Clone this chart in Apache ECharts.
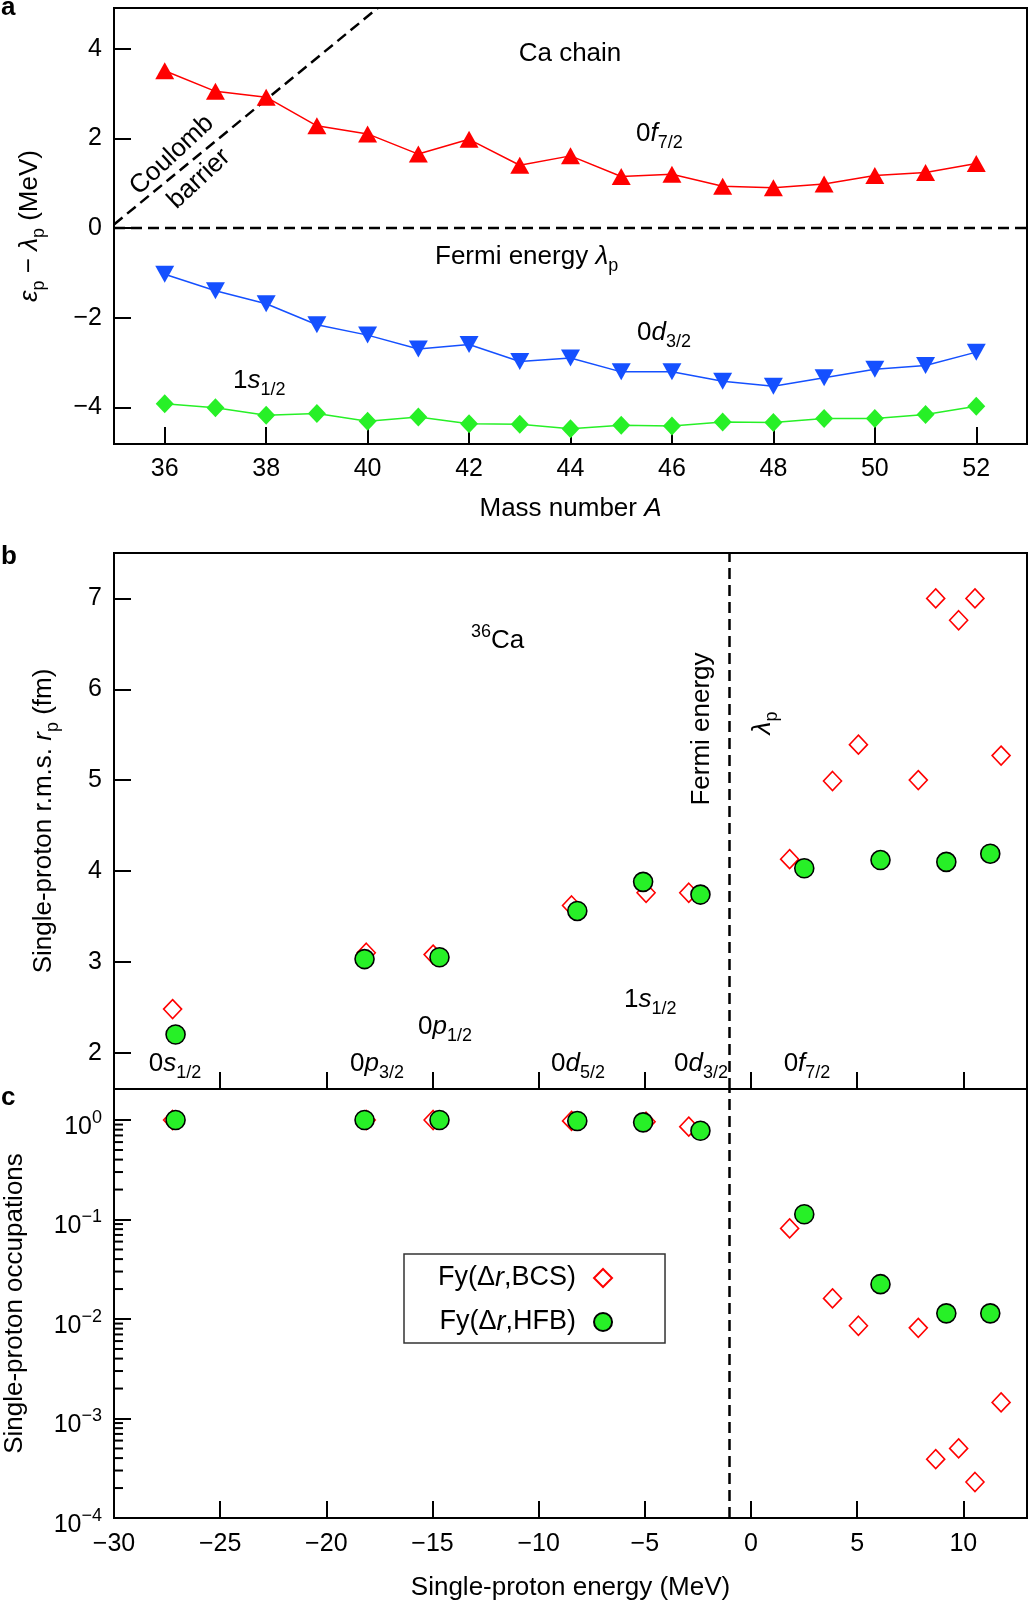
<!DOCTYPE html>
<html><head><meta charset="utf-8">
<script src="https://cdn.jsdelivr.net/npm/echarts@6/dist/echarts.min.js"></script>
<style>html,body{margin:0;padding:0;background:#fff}#c{width:1029px;height:1601px}</style>
</head><body><div id="c"></div>
<script>
// ---------- Panel a data (Ca chain) ----------
const massNumbers = [36,37,38,39,40,41,42,43,44,45,46,47,48,49,50,51,52];
const levelF72 = [3.51,3.05,2.92,2.28,2.1,1.65,1.98,1.4,1.61,1.15,1.2,0.93,0.9,0.98,1.17,1.24,1.44];
const levelD32 = [-1.03,-1.4,-1.69,-2.16,-2.39,-2.7,-2.6,-2.98,-2.9,-3.21,-3.21,-3.42,-3.53,-3.34,-3.15,-3.07,-2.77];
const levelS12 = [-3.92,-4.01,-4.18,-4.14,-4.31,-4.22,-4.37,-4.38,-4.48,-4.4,-4.42,-4.33,-4.34,-4.25,-4.25,-4.16,-3.98];
const coulombBarrier = [[35,0.08],[40.2,4.91]];
const fermiLevelA = 0;

// ---------- Panels b, c data (36Ca) ----------
const bcsEnergy = [-27.24,-18.12,-14.97,-8.45,-4.94,-2.93,1.82,3.84,5.06,7.88,8.7,9.78,10.55,11.78];
const bcsRms    = [2.48,3.1,3.08,3.62,3.76,3.76,4.13,4.99,5.39,5.0,7.0,6.76,7.0,5.27];
const bcsOcc    = [1.0,1.0,1.0,0.98,0.96,0.857,0.0814,0.0161,0.00855,0.00815,0.00039,0.0005,0.00023,0.00145];
const hfbEnergy = [-27.1,-18.2,-14.67,-8.18,-5.08,-2.38,2.51,6.1,9.2,11.27];
const hfbRms    = [2.2,3.03,3.05,3.56,3.88,3.74,4.03,4.12,4.1,4.19];
const hfbOcc    = [1.0,1.0,1.0,0.977,0.947,0.78,0.113,0.0224,0.0114,0.0114];
const fermiEnergyB = -1.0;
const orbitalLabels = ['0{i|s}{sub|1/2}','0{i|p}{sub|3/2}','0{i|d}{sub|5/2}','0{i|d}{sub|3/2}','0{i|f}{sub|7/2}'];
const orbitalLabelX = [175,377,578,701,807];

const F = '"Liberation Sans", Arial, Helvetica, sans-serif';
const RICH = {
  i:{fontStyle:'italic',fontSize:26,fontFamily:F,lineHeight:36},
  sub:{fontSize:18,fontFamily:F,verticalAlign:'bottom',lineHeight:16},
  sup:{fontSize:18,fontFamily:F,verticalAlign:'top',lineHeight:16}
};
const minus = v => (v < 0 ? '\u2212' + Math.abs(v) : String(v));

const RED = '#ff0000', BLUE = '#1550ff', GREEN = '#27f027';
const tick = {inside:true,length:17,lineStyle:{color:'#000',width:2}};
const aline = {onZero:false, lineStyle:{color:'#000',width:2}};
const lab = {fontSize:25,color:'#000',fontFamily:F,showMinLabel:false,showMaxLabel:false};
const nameStyle = {fontSize:26,color:'#000',fontFamily:F,lineHeight:36,rich:RICH};

// minor ticks for log axis (2..9 x 10^k)
const minorTicks = [];
for (let k = -4; k <= -1; k++) for (let m = 2; m <= 9; m++) minorTicks.push([-30, m * Math.pow(10, k)]);

function txt(x, y, text, o) {
  o = o || {};
  return {type:'text', x:x, y:y, rotation:o.rot||0, silent:true, z:50,
    style:{text:text, fill:'#000', fontSize:o.fs||26, fontFamily:F, fontWeight:o.fw||'normal',
      align:o.align||'left', verticalAlign:'middle', lineHeight:36, rich:RICH}};
}

const chart = echarts.init(document.getElementById('c'), null, {renderer:'canvas', width:1029, height:1601});

const graphics = [
  txt(1, 8, 'a', {fw:'bold', fs:26}),
  txt(1, 557, 'b', {fw:'bold', fs:26}),
  txt(1, 1098, 'c', {fw:'bold', fs:26}),
  txt(570, 54, 'Ca chain', {align:'center'}),
  txt(636, 134, '0{i|f}{sub|7/2}'),
  txt(172, 155, 'Coulomb', {align:'center', rot:43*Math.PI/180}),
  txt(199, 179, 'barrier', {align:'center', rot:43*Math.PI/180}),
  txt(435, 257, 'Fermi energy {i|\u03bb}{sub|p}'),
  txt(637, 333, '0{i|d}{sub|3/2}'),
  txt(233, 381, '1{i|s}{sub|1/2}'),
  txt(471, 641, '{sup|36}Ca'),
  txt(702, 729, 'Fermi energy', {align:'center', rot:Math.PI/2}),
  txt(763, 723, '{i|\u03bb}{sub|p}', {align:'center', rot:Math.PI/2}),
  txt(418, 1027, '0{i|p}{sub|1/2}'),
  txt(624, 1000, '1{i|s}{sub|1/2}')
];
orbitalLabels.forEach((t, i) => graphics.push(txt(orbitalLabelX[i], 1064, t, {align:'center'})));

const gridBase = {left:114, width:913, show:true, borderColor:'#000', borderWidth:2, outerBoundsMode:'none', containLabel:false};

const option = {
  animation:false,
  backgroundColor:'#fff',
  textStyle:{fontFamily:F},
  grid:[
    Object.assign({}, gridBase, {top:8, height:436}),
    Object.assign({}, gridBase, {top:553, height:536}),
    Object.assign({}, gridBase, {top:1089, height:429})
  ],
  xAxis:[
    {gridIndex:0, type:'value', min:35, max:53, splitNumber:9, axisLine:aline, axisTick:tick,
     axisLabel:Object.assign({}, lab, {margin:13}), splitLine:{show:false},
     name:'Mass number {i|A}', nameLocation:'middle', nameGap:47, nameTextStyle:nameStyle},
    {gridIndex:1, type:'value', min:-30, max:13, interval:5, axisLine:aline, axisTick:tick,
     axisLabel:{show:false}, splitLine:{show:false}},
    {gridIndex:2, type:'value', min:-30, max:13, interval:5, axisLine:aline, axisTick:tick,
     axisLabel:Object.assign({}, lab, {showMinLabel:true, margin:14, formatter:minus}), splitLine:{show:false},
     name:'Single-proton energy (MeV)', nameLocation:'middle', nameGap:52, nameTextStyle:nameStyle}
  ],
  yAxis:[
    {gridIndex:0, type:'value', min:-4.82, max:4.91, splitNumber:5, axisLine:aline, axisTick:tick,
     axisLabel:Object.assign({}, lab, {margin:12, formatter:minus}), splitLine:{show:false},
     name:'{i|\u03b5}{sub|p} \u2212 {i|\u03bb}{sub|p} (MeV)', nameLocation:'middle', nameGap:66, nameTextStyle:nameStyle},
    {gridIndex:1, type:'value', min:1.6, max:7.5, splitNumber:6, axisLine:aline, axisTick:tick,
     axisLabel:Object.assign({}, lab, {margin:12}), splitLine:{show:false},
     name:'Single-proton r.m.s. {i|r}{sub|p} (fm)', nameLocation:'middle', nameGap:52, nameTextStyle:nameStyle},
    {gridIndex:2, type:'log', logBase:10, min:0.0001, max:2.05, axisLine:aline, axisTick:tick,
     axisLabel:Object.assign({}, lab, {showMinLabel:true, margin:12, lineHeight:36, padding:[14,0,0,0],
       verticalAlignMinLabel:'middle',
       rich:{sup:{fontSize:18,fontFamily:F,verticalAlign:'top',lineHeight:16}},
       formatter:function(v){ const e = Math.log10(v); if (Math.abs(e - Math.round(e)) > 0.01) return ''; return '10{sup|' + minus(Math.round(e)) + '}'; }}),
     splitLine:{show:false},
     name:'Single-proton occupations', nameLocation:'middle', nameGap:81, nameTextStyle:nameStyle}
  ],
  legend:{
    data:['BCS','HFB'], orient:'vertical', left:404, top:1254, align:'right',
    padding:[9,52,6,34], itemGap:14, itemWidth:18, itemHeight:18,
    borderColor:'#333', borderWidth:1.5, backgroundColor:'#fff',
    selectedMode:false,
    formatter:function(n){ return 'Fy(\u0394{i|r},' + n + ')'; },
    textStyle:{fontSize:27, color:'#000', fontFamily:F, lineHeight:30, padding:[0,13,0,0],
      rich:{i:{fontStyle:'italic', fontSize:27, fontFamily:F, lineHeight:30}}}
  },
  graphic:graphics,
  series:[
    {type:'line', xAxisIndex:0, yAxisIndex:0, silent:true, symbol:'none', z:1,
     data:[[35, fermiLevelA],[53, fermiLevelA]], lineStyle:{color:'#000', width:2.5, type:[11,6]}},
    {type:'line', xAxisIndex:0, yAxisIndex:0, silent:true, symbol:'none', z:1,
     data:coulombBarrier, lineStyle:{color:'#000', width:2.5, type:[11,6]}},
    {type:'line', name:'f72', xAxisIndex:0, yAxisIndex:0, silent:true, symbol:'triangle', symbolSize:[19,17],
     data:massNumbers.map((a,i)=>[a, levelF72[i]]), lineStyle:{color:RED, width:1.5}, itemStyle:{color:RED, opacity:1}},
    {type:'line', name:'d32', xAxisIndex:0, yAxisIndex:0, silent:true, symbol:'triangle', symbolRotate:180, symbolSize:[19,17],
     data:massNumbers.map((a,i)=>[a, levelD32[i]]), lineStyle:{color:BLUE, width:1.5}, itemStyle:{color:BLUE, opacity:1}},
    {type:'line', name:'s12', xAxisIndex:0, yAxisIndex:0, silent:true, symbol:'diamond', symbolSize:[18,19],
     data:massNumbers.map((a,i)=>[a, levelS12[i]]), lineStyle:{color:GREEN, width:1.5}, itemStyle:{color:GREEN, opacity:1}},

    {type:'scatter', name:'BCS', xAxisIndex:1, yAxisIndex:1, silent:true, symbol:'diamond', symbolSize:[18,19], z:3,
     data:bcsEnergy.map((e,i)=>[e, bcsRms[i]]), itemStyle:{color:'rgba(255,255,255,0)', borderColor:RED, borderWidth:1.6, opacity:1},
     markLine:{silent:true, symbol:['none','none'], label:{show:false}, lineStyle:{color:'#000', width:2.5, type:[11,6]},
       data:[{xAxis:fermiEnergyB}]}},
    {type:'scatter', name:'HFB', xAxisIndex:1, yAxisIndex:1, silent:true, symbol:'circle', symbolSize:19, z:4,
     data:hfbEnergy.map((e,i)=>[e, hfbRms[i]]), itemStyle:{color:GREEN, borderColor:'#000', borderWidth:1.6, opacity:1}},

    {type:'scatter', name:'BCS', xAxisIndex:2, yAxisIndex:2, silent:true, symbol:'diamond', symbolSize:[18,19], z:3,
     data:bcsEnergy.map((e,i)=>[e, bcsOcc[i]]), itemStyle:{color:'rgba(255,255,255,0)', borderColor:RED, borderWidth:1.6, opacity:1},
     markLine:{silent:true, symbol:['none','none'], label:{show:false}, lineStyle:{color:'#000', width:2.5, type:[11,6]},
       data:[{xAxis:fermiEnergyB}]}},
    {type:'scatter', name:'HFB', xAxisIndex:2, yAxisIndex:2, silent:true, symbol:'circle', symbolSize:19, z:4,
     data:hfbEnergy.map((e,i)=>[e, hfbOcc[i]]), itemStyle:{color:GREEN, borderColor:'#000', borderWidth:1.6, opacity:1}},

    {type:'custom', xAxisIndex:2, yAxisIndex:2, silent:true, clip:false, z:10, encode:{x:0, y:1},
     data:minorTicks,
     renderItem:function(p, api){ const c = api.coord([api.value(0), api.value(1)]);
       return {type:'line', shape:{x1:c[0], y1:c[1], x2:c[0]+9, y2:c[1]}, style:{stroke:'#000', lineWidth:2}}; }}
  ]
};
chart.setOption(option);
</script>
</body></html>
